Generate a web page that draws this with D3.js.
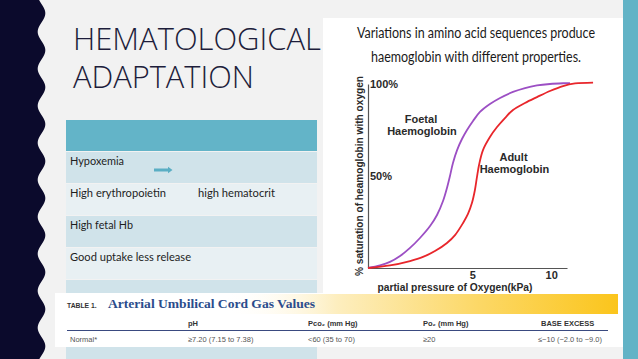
<!DOCTYPE html>
<html><head><meta charset="utf-8">
<script src="https://cdn.jsdelivr.net/npm/d3@7"></script>
<style>body{margin:0;background:#f2f2f2;overflow:hidden} svg{display:block}</style>
</head><body>
<svg id="c" width="638" height="359"></svg>
<script>
// ---------- data ----------
const slideTitle = ["HEMATOLOGICAL", "ADAPTATION"];
const listLeft = ["Hypoxemia", "High erythropoietin", "High fetal Hb", "Good uptake less release"];
const listRight = ["", "high hematocrit", "", ""];
const chartTitle = ["Variations in amino acid sequences produce", "haemoglobin with different properties."];
// partial pressure of oxygen (kPa) vs % saturation
const pO2Foetal = [-1.6, -0.84, -0.21, 0.43, 1.06, 1.69, 2.33, 2.77, 3.15, 3.40, 3.59, 3.78, 4.04, 4.35, 4.67, 5.05, 5.49, 6.12, 6.76, 7.58, 8.34, 9.10, 9.92, 10.75, 11.19];
const satFoetal = [0, 1.4, 3.3, 6.5, 10.9, 16.3, 22.8, 28.8, 36.4, 43.5, 50.0, 57.1, 64.1, 70.1, 75.0, 79.9, 84.8, 89.1, 92.4, 95.7, 97.8, 99.2, 100, 100.4, 100.5];
const pO2Adult = [-1.6, -0.21, 1.06, 1.88, 2.64, 3.40, 3.91, 4.42, 4.73, 4.98, 5.17, 5.30, 5.43, 5.68, 6.12, 6.57, 7.07, 7.58, 8.34, 9.10, 9.92, 10.75, 11.51, 12.65];
const satAdult = [0, 1.4, 3.8, 6.0, 9.2, 13.6, 17.9, 24.5, 29.4, 35.3, 42.4, 49.5, 56.0, 64.1, 71.2, 76.6, 81.5, 85.9, 89.7, 92.9, 96.2, 98.9, 100.3, 100.8];
const xTicks = [5, 10];
const yTicks = [50, 100];
const curveNames = ["Foetal|Haemoglobin", "Adult|Haemoglobin"];
const xTitle = "partial pressure of Oxygen(kPa)";
const yTitle = "% saturation of heamoglobin with oxygen";
const tableCaption = ["TABLE 1.", "Arterial Umbilical Cord Gas Values"];
const tableCols = ["", "pH", "Pco₂ (mm Hg)", "Po₂ (mm Hg)", "BASE EXCESS"];
const tableRow = ["Normal*", "≥7.20 (7.15 to 7.38)", "<60 (35 to 70)", "≥20", "≤−10 (−2.0 to −9.0)"];

// ---------- drawing ----------
const svg = d3.select("#c");
svg.append("rect").attr("width", 638).attr("height", 359).attr("fill", "#f2f2f2");

// wavy navy band
const waveYs = d3.range(-2, 362, 1);
const wave = d3.area().x0(0).x1(v => 41.5 + 3.8 * Math.sin(2 * Math.PI * (v - 4) / 37)).y(v => v);
svg.append("path").datum(waveYs).attr("d", wave).attr("fill", "#0b0a2c");
// right teal strip
svg.append("rect").attr("x", 623).attr("y", 0).attr("width", 15).attr("height", 359).attr("fill", "#62b3c6");

// slide title
const titleLens = [248, 181];
svg.selectAll("text.title").data(slideTitle).join("text").attr("class", "title")
  .attr("x", 73).attr("y", (d, i) => 50 + i * 38)
  .attr("textLength", (d, i) => titleLens[i]).attr("lengthAdjust", "spacingAndGlyphs")
  .attr("font-family", "Open Sans").attr("font-weight", 300).attr("font-size", 30.5)
  .attr("fill", "#1d1d3b").text(d => d);

// left table
const rowTops = [120, 152, 184, 216, 248, 280];
const rowH = [31, 31, 31, 31, 31, 80];
const rowFill = ["#63b4c8", "#d0e3ea", "#e8f0f3", "#d0e3ea", "#e8f0f3", "#d0e3ea"];
svg.selectAll("rect.row").data(rowTops).join("rect").attr("class", "row")
  .attr("x", 66).attr("y", d => d).attr("width", 251).attr("height", (d, i) => rowH[i])
  .attr("fill", (d, i) => rowFill[i]);
const leftLens = [54, 96, 63, 121];
svg.selectAll("text.ll").data(listLeft).join("text").attr("class", "ll")
  .attr("x", 70).attr("y", (d, i) => 165 + i * 32)
  .attr("textLength", (d, i) => leftLens[i]).attr("lengthAdjust", "spacingAndGlyphs")
  .attr("font-family", "Lato").attr("font-size", 12.2).attr("fill", "#1e1e1e").text(d => d);
svg.selectAll("text.lr").data(listRight).join("text").attr("class", "lr")
  .attr("x", 198).attr("y", (d, i) => 165 + i * 32)
  .attr("textLength", d => d ? 77 : null).attr("lengthAdjust", "spacingAndGlyphs")
  .attr("font-family", "Lato").attr("font-size", 12.2).attr("fill", "#1e1e1e").text(d => d);
// arrow
svg.append("path").attr("d", "M154,168.6 L168,168.6 L168,166.8 L172.5,170 L168,173.2 L168,171.4 L154,171.4 Z")
  .attr("fill", "#5aaec4");

// chart panel
svg.append("rect").attr("x", 323).attr("y", 18).attr("width", 300).attr("height", 276).attr("fill", "#ffffff");
const tLens = [238, 210];
svg.selectAll("text.ct").data(chartTitle).join("text").attr("class", "ct")
  .attr("x", 476).attr("y", (d, i) => 38 + i * 24).attr("text-anchor", "middle")
  .attr("textLength", (d, i) => tLens[i]).attr("lengthAdjust", "spacingAndGlyphs")
  .attr("font-family", "Lato").attr("font-size", 14.5).attr("fill", "#1a1a1a").text(d => d);

const x = d3.scaleLinear().domain([-1.6, 11.0]).range([368, 567]);
const y = d3.scaleLinear().domain([0, 100]).range([268, 84]);

const gx = svg.append("g").attr("transform", "translate(0,268)")
  .call(d3.axisBottom(x).tickValues(xTicks).tickSize(0).tickPadding(3));
const gy = svg.append("g").attr("transform", "translate(368,0)")
  .call(d3.axisLeft(y).tickValues(yTicks).tickSize(0).tickFormat(d => d + "%"));
[gx, gy].forEach(g => {
  g.select(".domain").attr("stroke", "#555").attr("stroke-width", 1.2);
  g.selectAll("text").attr("font-family", "Liberation Sans").attr("font-weight", "bold")
    .attr("font-size", 11).attr("fill", "#2a2a2a");
});
gy.selectAll("text").attr("x", 2).attr("text-anchor", "start");

const line = d3.line().x(d => x(d[0])).y(d => y(d[1])).curve(d3.curveCatmullRom.alpha(0.5));
svg.append("path").datum(d3.zip(pO2Foetal, satFoetal)).attr("d", line)
  .attr("fill", "none").attr("stroke", "#9c4fc4").attr("stroke-width", 1.8);
svg.append("path").datum(d3.zip(pO2Adult, satAdult)).attr("d", line)
  .attr("fill", "none").attr("stroke", "#e8262b").attr("stroke-width", 1.8);

// curve labels
const labelXY = [[421, 123], [513.5, 161]];
curveNames.forEach((nm, k) => {
  nm.split("|").forEach((p, j) => {
    svg.append("text").attr("x", labelXY[k][0] + (j ? 1 : 0)).attr("y", labelXY[k][1] + j * 11.5)
      .attr("text-anchor", "middle").attr("font-family", "Liberation Sans").attr("font-weight", "bold")
      .attr("font-size", 11).attr("fill", "#2a2a2a").text(p);
  });
});

// axis titles
svg.append("text").attr("x", 455).attr("y", 291).attr("text-anchor", "middle")
  .attr("textLength", 155).attr("lengthAdjust", "spacingAndGlyphs")
  .attr("font-family", "Liberation Sans").attr("font-weight", "bold").attr("font-size", 10.5)
  .attr("fill", "#2a2a2a").text(xTitle);
svg.append("text").attr("transform", "translate(363,176) rotate(-90)").attr("text-anchor", "middle")
  .attr("textLength", 200).attr("lengthAdjust", "spacingAndGlyphs")
  .attr("font-family", "Liberation Sans").attr("font-weight", "bold").attr("font-size", 10.5)
  .attr("fill", "#2a2a2a").text(yTitle);

// bottom table image
svg.append("rect").attr("x", 55).attr("y", 293).attr("width", 568).attr("height", 54).attr("fill", "#ffffff");
const grad = svg.append("defs").append("linearGradient").attr("id", "yg");
[[0, "#ffffff", 0], [0.3, "#ffffff", 0], [0.5, "#fdeebf", 1], [0.75, "#fcd867", 1], [1, "#fbc51c", 1]]
  .forEach(s => grad.append("stop").attr("offset", s[0]).attr("stop-color", s[1]).attr("stop-opacity", s[2]));
svg.append("rect").attr("x", 55).attr("y", 294).attr("width", 563).attr("height", 20).attr("fill", "url(#yg)");
svg.append("text").attr("x", 67).attr("y", 308).attr("font-family", "Liberation Sans").attr("font-size", 6.8)
  .attr("fill", "#333").attr("font-weight", "bold").text(tableCaption[0]);
svg.append("text").attr("x", 108).attr("y", 308).attr("textLength", 207).attr("lengthAdjust", "spacingAndGlyphs")
  .attr("font-family", "Liberation Serif").attr("font-weight", "bold").attr("font-size", 13.5)
  .attr("fill", "#2b4c8c").text(tableCaption[1]);
const colX = [70, 188, 308, 423, 541];
const rowX = [70, 188, 308, 423, 538];
svg.selectAll("text.th").data(tableCols).join("text").attr("class", "th")
  .attr("x", (d, i) => colX[i]).attr("y", 326)
  .attr("font-family", "Liberation Sans").attr("font-weight", "bold").attr("font-size", 7.5)
  .attr("fill", "#333").text(d => d);
svg.append("line").attr("x1", 67).attr("x2", 608).attr("y1", 330.5).attr("y2", 330.5)
  .attr("stroke", "#3a4a80").attr("stroke-width", 1.1);
svg.selectAll("text.td").data(tableRow).join("text").attr("class", "td")
  .attr("x", (d, i) => rowX[i]).attr("y", 342)
  .attr("font-family", "Liberation Sans").attr("font-size", 7.5)
  .attr("fill", "#555").text(d => d);
</script>
</body></html>
